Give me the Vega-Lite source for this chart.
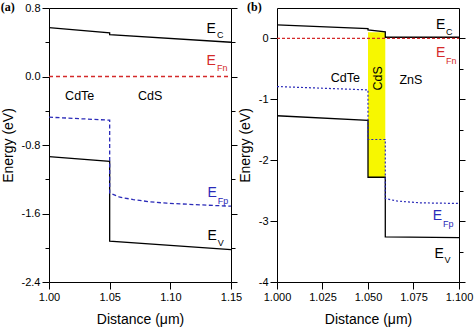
{
  "$schema": "https://vega.github.io/schema/vega-lite/v6.json",
  "padding": {"left": 0, "top": 0, "right": 0, "bottom": 0},
  "bounds": "flush",
  "spacing": 46,
  "config": {
    "view": {"stroke": "black", "strokeWidth": 1},
    "axis": {"domain": false, "grid": false, "tickColor": "black", "tickWidth": 1, "labelColor": "black", "labelFont": "Liberation Sans", "labelFontSize": 11, "titleFont": "Liberation Sans", "titleFontSize": 14, "titleFontWeight": "normal", "titleColor": "black", "labelPadding": 2, "labelOverlap": false, "labelFlush": false},
    "text": {"font": "Liberation Sans"}
  },
  "datasets": {
    "a": [
      {"s": "Ec", "i": 0, "x": 1.00, "y": 0.57},
      {"s": "Ec", "i": 1, "x": 1.05, "y": 0.51},
      {"s": "Ec", "i": 2, "x": 1.05, "y": 0.49},
      {"s": "Ec", "i": 3, "x": 1.15, "y": 0.40},
      {"s": "EFn", "i": 0, "x": 1.00, "y": 0},
      {"s": "EFn", "i": 1, "x": 1.15, "y": 0},
      {"s": "EFp", "i": 0, "x": 1.00, "y": -0.475},
      {"s": "EFp", "i": 1, "x": 1.05, "y": -0.51},
      {"s": "EFp", "i": 2, "x": 1.05, "y": -1.36},
      {"s": "EFp", "i": 3, "x": 1.0585, "y": -1.41},
      {"s": "EFp", "i": 4, "x": 1.0695, "y": -1.437},
      {"s": "EFp", "i": 5, "x": 1.0833, "y": -1.464},
      {"s": "EFp", "i": 6, "x": 1.097, "y": -1.48},
      {"s": "EFp", "i": 7, "x": 1.1245, "y": -1.499},
      {"s": "EFp", "i": 8, "x": 1.15, "y": -1.515},
      {"s": "Ev", "i": 0, "x": 1.00, "y": -0.935},
      {"s": "Ev", "i": 1, "x": 1.05, "y": -0.99},
      {"s": "Ev", "i": 2, "x": 1.05, "y": -1.924},
      {"s": "Ev", "i": 3, "x": 1.15, "y": -2.021}
    ],
    "b": [
      {"s": "Ec", "i": 0, "x": 1.000, "y": 0.224},
      {"s": "Ec", "i": 1, "x": 1.050, "y": 0.16},
      {"s": "Ec", "i": 2, "x": 1.050, "y": 0.14},
      {"s": "Ec", "i": 3, "x": 1.0595, "y": 0.11},
      {"s": "Ec", "i": 4, "x": 1.0595, "y": 0.02},
      {"s": "Ec", "i": 5, "x": 1.100, "y": 0.02},
      {"s": "EFn", "i": 0, "x": 1.000, "y": 0},
      {"s": "EFn", "i": 1, "x": 1.100, "y": 0},
      {"s": "EFp", "i": 0, "x": 1.000, "y": -0.79},
      {"s": "EFp", "i": 1, "x": 1.050, "y": -0.845},
      {"s": "EFp", "i": 2, "x": 1.050, "y": -1.66},
      {"s": "EFp", "i": 3, "x": 1.0595, "y": -1.66},
      {"s": "EFp", "i": 4, "x": 1.0595, "y": -2.63},
      {"s": "EFp", "i": 5, "x": 1.0659, "y": -2.67},
      {"s": "EFp", "i": 6, "x": 1.0787, "y": -2.70},
      {"s": "EFp", "i": 7, "x": 1.100, "y": -2.71},
      {"s": "Ev", "i": 0, "x": 1.000, "y": -1.27},
      {"s": "Ev", "i": 1, "x": 1.050, "y": -1.346},
      {"s": "Ev", "i": 2, "x": 1.050, "y": -2.28},
      {"s": "Ev", "i": 3, "x": 1.0595, "y": -2.28},
      {"s": "Ev", "i": 4, "x": 1.0595, "y": -3.26},
      {"s": "Ev", "i": 5, "x": 1.100, "y": -3.27}
    ],
    "cds": [{"x1": 1.050, "x2": 1.0595, "y1": 0.10, "y2": -2.28}],
    "ea": [
      {"s": "Ec", "x": 1.1298, "y": 0.549, "t": "E"},
      {"s": "EFn", "x": 1.1298, "y": 0.179, "t": "E"},
      {"s": "EFp", "x": 1.1306, "y": -1.359, "t": "E"},
      {"s": "Ev", "x": 1.1306, "y": -1.866, "t": "E"}
    ],
    "sa": [
      {"s": "Ec", "x": 1.1385, "y": 0.485, "t": "C"},
      {"s": "EFn", "x": 1.1385, "y": 0.101, "t": "Fn"},
      {"s": "EFp", "x": 1.139, "y": -1.452, "t": "Fp"},
      {"s": "Ev", "x": 1.139, "y": -1.94, "t": "V"}
    ],
    "ra": [
      {"x": 1.0253, "y": -0.23, "t": "CdTe"},
      {"x": 1.0833, "y": -0.23, "t": "CdS"}
    ],
    "pa": [{"x": 0.966, "y": 0.81, "t": "(a)"}],
    "eb": [
      {"s": "Ec", "x": 1.0874, "y": 0.217, "t": "E"},
      {"s": "EFn", "x": 1.0874, "y": -0.237, "t": "E"},
      {"s": "EFp", "x": 1.0856, "y": -2.915, "t": "E"},
      {"s": "Ev", "x": 1.0865, "y": -3.54, "t": "E"}
    ],
    "sb": [
      {"s": "Ec", "x": 1.0928, "y": 0.114, "t": "C"},
      {"s": "EFn", "x": 1.0928, "y": -0.366, "t": "Fn"},
      {"s": "EFp", "x": 1.0912, "y": -3.05, "t": "Fp"},
      {"s": "Ev", "x": 1.0921, "y": -3.64, "t": "V"}
    ],
    "rb": [
      {"x": 1.0375, "y": -0.644, "t": "CdTe"},
      {"x": 1.0736, "y": -0.68, "t": "ZnS"}
    ],
    "rbv": [{"x": 1.0557, "y": -0.654, "t": "CdS"}],
    "pb": [{"x": 0.9876, "y": 0.516, "t": "(b)"}]
  },
  "hconcat": [
    {
      "width": 182,
      "height": 274,
      "resolve": {"axis": {"y": "independent"}},
      "layer": [
        {
          "data": {"name": "a"},
          "transform": [{"filter": "datum.s === 'Ec' || datum.s === 'Ev'"}],
          "mark": {"type": "line", "color": "black", "strokeWidth": 1.3},
          "encoding": {
            "x": {"field": "x", "type": "quantitative", "scale": {"domain": [1.0, 1.15], "nice": false, "zero": false},
              "axis": {"title": "Distance (μm)", "values": [1.0, 1.025, 1.05, 1.075, 1.1, 1.125, 1.15], "format": ".2f",
                "labelExpr": "abs(datum.value*20-round(datum.value*20))<0.001 ? datum.label : ''",
                "tickSize": {"condition": {"test": "abs(datum.value*20-round(datum.value*20))<0.001", "value": 7}, "value": 4},
                "titlePadding": 10}},
            "y": {"field": "y", "type": "quantitative", "scale": {"domain": [-2.4, 0.8], "nice": false, "zero": false},
              "axis": {"title": "Energy (eV)", "values": [-2.4, -2.0, -1.6, -1.2, -0.8, -0.4, 0, 0.4, 0.8], "format": ".1f",
                "labelExpr": "abs(datum.value/0.8-round(datum.value/0.8))<0.001 ? replace(datum.label, '−', '-') : ''",
                "tickSize": {"condition": {"test": "abs(datum.value/0.8-round(datum.value/0.8))<0.001", "value": 7}, "value": 4},
                "titlePadding": 6}},
            "detail": {"field": "s"},
            "order": {"field": "i", "type": "quantitative"}
          }
        },
        {
          "data": {"name": "a"},
          "transform": [{"filter": "datum.s === 'EFn'"}],
          "mark": {"type": "line", "color": "#d42a2a", "strokeWidth": 1.3, "strokeDash": [4, 3]},
          "encoding": {
            "x": {"field": "x", "type": "quantitative", "scale": {"domain": [1.0, 1.15], "nice": false, "zero": false}},
            "y": {"field": "y", "type": "quantitative", "scale": {"domain": [-2.4, 0.8], "nice": false, "zero": false},
              "axis": {"orient": "right", "title": null, "labels": false, "values": [-2.4, -2.0, -1.6, -1.2, -0.8, -0.4, 0, 0.4, 0.8],
                "tickSize": {"condition": {"test": "abs(datum.value/0.8-round(datum.value/0.8))<0.001", "value": 6}, "value": 4}}},
            "order": {"field": "i", "type": "quantitative"}
          }
        },
        {
          "data": {"name": "a"},
          "transform": [{"filter": "datum.s === 'EFp'"}],
          "mark": {"type": "line", "color": "#2a2ab8", "strokeWidth": 1.3, "strokeDash": [4, 2.5]},
          "encoding": {
            "x": {"field": "x", "type": "quantitative", "scale": {"domain": [1.0, 1.15], "nice": false, "zero": false}},
            "y": {"field": "y", "type": "quantitative", "scale": {"domain": [-2.4, 0.8], "nice": false, "zero": false}, "axis": null},
            "order": {"field": "i", "type": "quantitative"}
          }
        },
        {
          "data": {"name": "ea"},
          "mark": {"type": "text", "fontSize": 14, "align": "left", "baseline": "middle"},
          "encoding": {
            "x": {"field": "x", "type": "quantitative", "scale": {"domain": [1.0, 1.15], "nice": false, "zero": false}},
            "y": {"field": "y", "type": "quantitative", "scale": {"domain": [-2.4, 0.8], "nice": false, "zero": false}, "axis": null},
            "text": {"field": "t"},
            "color": {"field": "s", "type": "nominal", "scale": {"domain": ["Ec", "EFn", "EFp", "Ev"], "range": ["black", "#d42a2a", "#2a2ab8", "black"]}, "legend": null}
          }
        },
        {
          "data": {"name": "sa"},
          "mark": {"type": "text", "fontSize": 9, "align": "left", "baseline": "middle"},
          "encoding": {
            "x": {"field": "x", "type": "quantitative", "scale": {"domain": [1.0, 1.15], "nice": false, "zero": false}},
            "y": {"field": "y", "type": "quantitative", "scale": {"domain": [-2.4, 0.8], "nice": false, "zero": false}, "axis": null},
            "text": {"field": "t"},
            "color": {"field": "s", "type": "nominal", "scale": {"domain": ["Ec", "EFn", "EFp", "Ev"], "range": ["black", "#d42a2a", "#2a2ab8", "black"]}, "legend": null}
          }
        },
        {
          "data": {"name": "ra"},
          "mark": {"type": "text", "fontSize": 12.5, "align": "center", "baseline": "middle", "color": "black"},
          "encoding": {
            "x": {"field": "x", "type": "quantitative", "scale": {"domain": [1.0, 1.15], "nice": false, "zero": false}},
            "y": {"field": "y", "type": "quantitative", "scale": {"domain": [-2.4, 0.8], "nice": false, "zero": false}, "axis": null},
            "text": {"field": "t"}
          }
        },
        {
          "data": {"name": "pa"},
          "mark": {"type": "text", "fontSize": 12, "font": "Liberation Serif", "fontWeight": "bold", "align": "center", "baseline": "middle", "color": "black"},
          "encoding": {
            "x": {"field": "x", "type": "quantitative", "scale": {"domain": [1.0, 1.15], "nice": false, "zero": false}},
            "y": {"field": "y", "type": "quantitative", "scale": {"domain": [-2.4, 0.8], "nice": false, "zero": false}, "axis": null},
            "text": {"field": "t"}
          }
        }
      ]
    },
    {
      "width": 182,
      "height": 274,
      "resolve": {"axis": {"y": "independent"}},
      "layer": [
        {
          "data": {"name": "cds"},
          "mark": {"type": "rect", "color": "#f7f700"},
          "encoding": {
            "x": {"field": "x1", "type": "quantitative", "scale": {"domain": [1.0, 1.1], "nice": false, "zero": false},
              "axis": {"title": "Distance (μm)", "values": [1.0, 1.0125, 1.025, 1.0375, 1.05, 1.0625, 1.075, 1.0875, 1.1], "format": ".3f",
                "labelExpr": "abs(datum.value*40-round(datum.value*40))<0.001 ? datum.label : ''",
                "tickSize": {"condition": {"test": "abs(datum.value*40-round(datum.value*40))<0.001", "value": 7}, "value": 4},
                "titlePadding": 10}},
            "x2": {"field": "x2"},
            "y": {"field": "y1", "type": "quantitative", "scale": {"domain": [-4, 0.5], "nice": false, "zero": false},
              "axis": {"title": "Energy (eV)", "values": [-4, -3.5, -3, -2.5, -2, -1.5, -1, -0.5, 0], "format": "d",
                "labelExpr": "abs(datum.value-round(datum.value))<0.001 ? replace(datum.label, '−', '-') : ''",
                "tickSize": {"condition": {"test": "abs(datum.value-round(datum.value))<0.001", "value": 7}, "value": 4},
                "titlePadding": 6}},
            "y2": {"field": "y2"}
          }
        },
        {
          "data": {"name": "b"},
          "transform": [{"filter": "datum.s === 'Ec' || datum.s === 'Ev'"}],
          "mark": {"type": "line", "color": "black", "strokeWidth": 1.3},
          "encoding": {
            "x": {"field": "x", "type": "quantitative", "scale": {"domain": [1.0, 1.1], "nice": false, "zero": false}},
            "y": {"field": "y", "type": "quantitative", "scale": {"domain": [-4, 0.5], "nice": false, "zero": false},
              "axis": {"orient": "right", "title": null, "labels": false, "values": [-4, -3.5, -3, -2.5, -2, -1.5, -1, -0.5, 0],
                "tickSize": {"condition": {"test": "abs(datum.value-round(datum.value))<0.001", "value": 6}, "value": 4}}},
            "detail": {"field": "s"},
            "order": {"field": "i", "type": "quantitative"}
          }
        },
        {
          "data": {"name": "b"},
          "transform": [{"filter": "datum.s === 'EFn'"}],
          "mark": {"type": "line", "color": "#d42a2a", "strokeWidth": 1.2, "strokeDash": [3, 2]},
          "encoding": {
            "x": {"field": "x", "type": "quantitative", "scale": {"domain": [1.0, 1.1], "nice": false, "zero": false}},
            "y": {"field": "y", "type": "quantitative", "scale": {"domain": [-4, 0.5], "nice": false, "zero": false}, "axis": null},
            "order": {"field": "i", "type": "quantitative"}
          }
        },
        {
          "data": {"name": "b"},
          "transform": [{"filter": "datum.s === 'EFp'"}],
          "mark": {"type": "line", "color": "#2a2ab8", "strokeWidth": 1.2, "strokeDash": [2, 2]},
          "encoding": {
            "x": {"field": "x", "type": "quantitative", "scale": {"domain": [1.0, 1.1], "nice": false, "zero": false}},
            "y": {"field": "y", "type": "quantitative", "scale": {"domain": [-4, 0.5], "nice": false, "zero": false}, "axis": null},
            "order": {"field": "i", "type": "quantitative"}
          }
        },
        {
          "data": {"name": "eb"},
          "mark": {"type": "text", "fontSize": 14, "align": "left", "baseline": "middle"},
          "encoding": {
            "x": {"field": "x", "type": "quantitative", "scale": {"domain": [1.0, 1.1], "nice": false, "zero": false}},
            "y": {"field": "y", "type": "quantitative", "scale": {"domain": [-4, 0.5], "nice": false, "zero": false}, "axis": null},
            "text": {"field": "t"},
            "color": {"field": "s", "type": "nominal", "scale": {"domain": ["Ec", "EFn", "EFp", "Ev"], "range": ["black", "#d42a2a", "#2a2ab8", "black"]}, "legend": null}
          }
        },
        {
          "data": {"name": "sb"},
          "mark": {"type": "text", "fontSize": 9, "align": "left", "baseline": "middle"},
          "encoding": {
            "x": {"field": "x", "type": "quantitative", "scale": {"domain": [1.0, 1.1], "nice": false, "zero": false}},
            "y": {"field": "y", "type": "quantitative", "scale": {"domain": [-4, 0.5], "nice": false, "zero": false}, "axis": null},
            "text": {"field": "t"},
            "color": {"field": "s", "type": "nominal", "scale": {"domain": ["Ec", "EFn", "EFp", "Ev"], "range": ["black", "#d42a2a", "#2a2ab8", "black"]}, "legend": null}
          }
        },
        {
          "data": {"name": "rb"},
          "mark": {"type": "text", "fontSize": 12.5, "align": "center", "baseline": "middle", "color": "black"},
          "encoding": {
            "x": {"field": "x", "type": "quantitative", "scale": {"domain": [1.0, 1.1], "nice": false, "zero": false}},
            "y": {"field": "y", "type": "quantitative", "scale": {"domain": [-4, 0.5], "nice": false, "zero": false}, "axis": null},
            "text": {"field": "t"}
          }
        },
        {
          "data": {"name": "rbv"},
          "mark": {"type": "text", "fontSize": 12.5, "align": "center", "baseline": "middle", "color": "black", "angle": 270},
          "encoding": {
            "x": {"field": "x", "type": "quantitative", "scale": {"domain": [1.0, 1.1], "nice": false, "zero": false}},
            "y": {"field": "y", "type": "quantitative", "scale": {"domain": [-4, 0.5], "nice": false, "zero": false}, "axis": null},
            "text": {"field": "t"}
          }
        },
        {
          "data": {"name": "pb"},
          "mark": {"type": "text", "fontSize": 12, "font": "Liberation Serif", "fontWeight": "bold", "align": "center", "baseline": "middle", "color": "black"},
          "encoding": {
            "x": {"field": "x", "type": "quantitative", "scale": {"domain": [1.0, 1.1], "nice": false, "zero": false}},
            "y": {"field": "y", "type": "quantitative", "scale": {"domain": [-4, 0.5], "nice": false, "zero": false}, "axis": null},
            "text": {"field": "t"}
          }
        }
      ]
    }
  ]
}
